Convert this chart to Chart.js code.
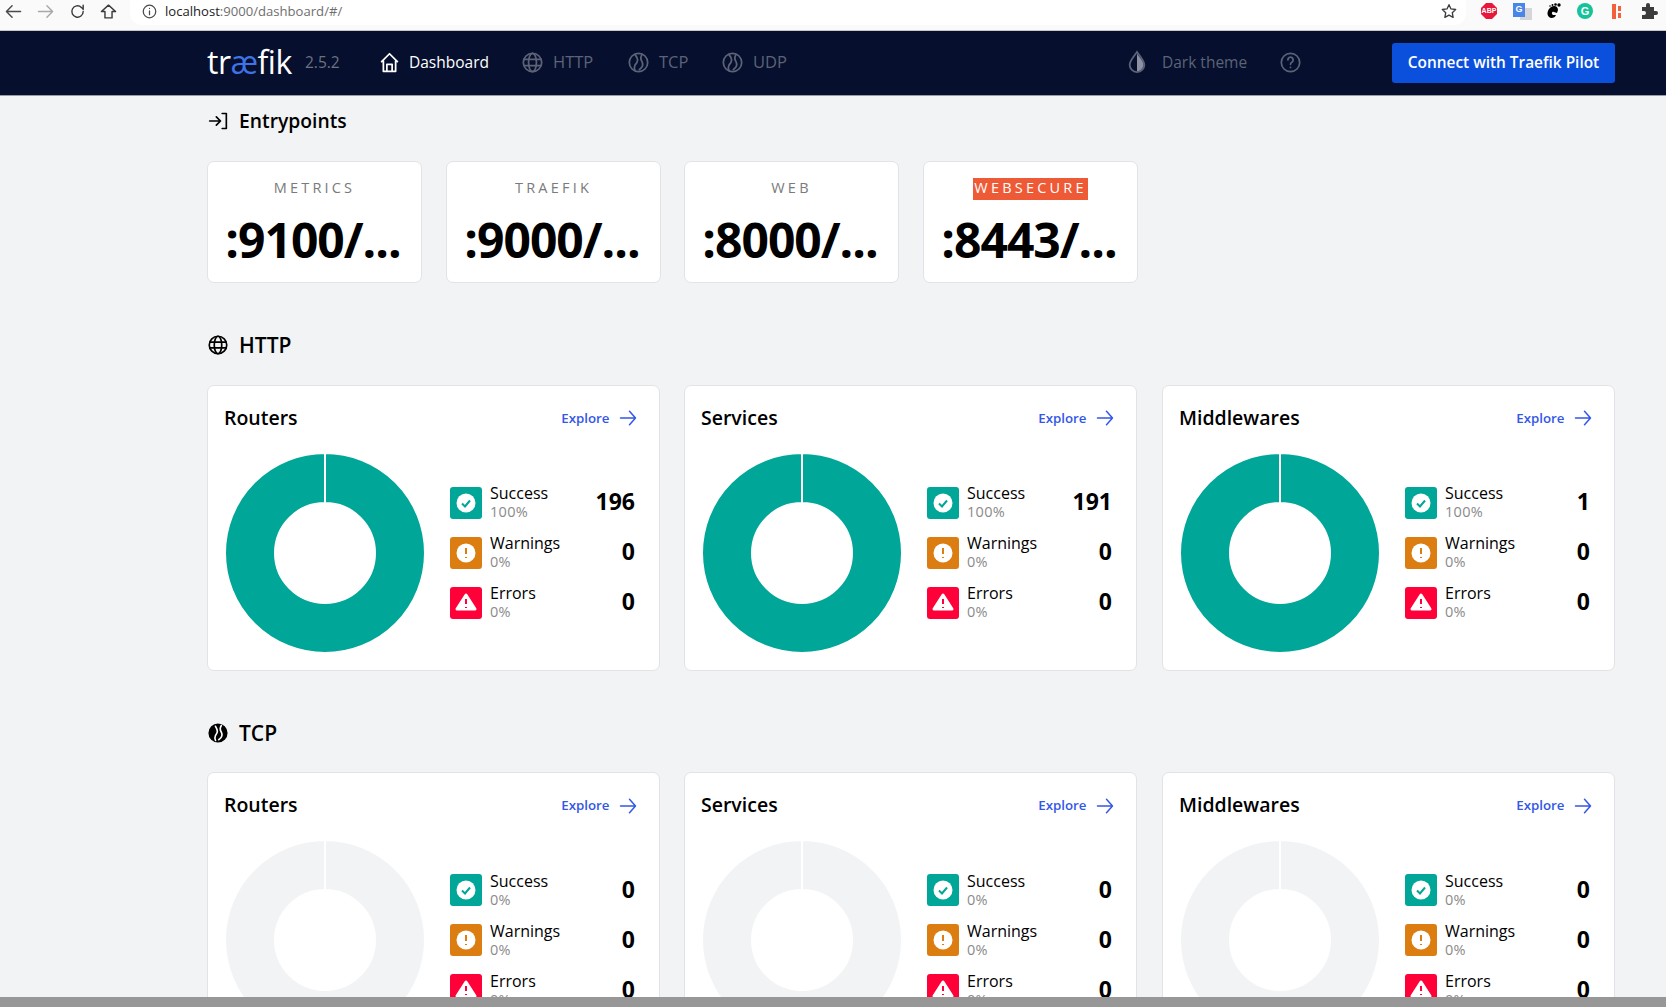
<!DOCTYPE html>
<html>
<head>
<meta charset="utf-8">
<title>Traefik dashboard</title>
<script src="https://cdn.jsdelivr.net/npm/chart.js@4/dist/chart.umd.min.js"></script>
<style>
  html, body { margin: 0; padding: 0; width: 1666px; height: 1007px; overflow: hidden; background: #f2f3f5; font-family: "Open Sans", sans-serif; color: #000; }
  #page { position: absolute; left: 0; top: 0; width: 1666px; height: 1007px; overflow: hidden; }
  .abs { position: absolute; white-space: nowrap; }
  .box { position: absolute; background: #fff; border: 1px solid #e2e3e6; border-radius: 7px; box-sizing: border-box; }
  svg { position: absolute; overflow: visible; }
  canvas { position: absolute; }
  #toolbar { position: absolute; left: 0; top: 0; width: 1666px; height: 31px; background: #fafafa; border-bottom: 1px solid #c8c8c8; box-sizing: border-box; }
  #urlbar { position: absolute; left: 130px; top: 0; width: 1336px; height: 25px; background: #fff; border-radius: 0 0 12px 12px; }
  #nav { position: absolute; left: 0; top: 31px; width: 1666px; height: 65px; background: #060f2d; border-bottom: 1px solid #9a9ca3; box-sizing: border-box; }
  #bottom { position: absolute; left: 0; top: 997px; width: 1666px; height: 10px; background: #979797; }
</style>
</head>
<body>
<div id="page">
  <div id="toolbar"><div id="urlbar"></div></div>
  <div id="nav"></div>
</div>
<script>
// values
const entryNames = ["METRICS", "TRAEFIK", "WEB", "WEBSECURE"];
const entryAddresses = [":9100/...", ":9000/...", ":8000/...", ":8443/..."];
const cardTitles = ["Routers", "Services", "Middlewares"];
const statusLabels = ["Success", "Warnings", "Errors"];
const statusColors = ["#00a697", "#db7d11", "#ff0039"];
const emptyColor = "#f2f3f5";

const httpRouters = [196, 0, 0];
const httpServices = [191, 0, 0];
const httpMiddlewares = [1, 0, 0];
const tcpRouters = [0, 0, 0];
const tcpServices = [0, 0, 0];
const tcpMiddlewares = [0, 0, 0];

const page = document.getElementById("page");

function text(str, x, cy, css, parent) {
  const el = document.createElement("div");
  el.className = "abs";
  el.textContent = str;
  el.style.cssText = `left:${x}px;top:${cy - 20}px;line-height:40px;height:40px;` + (css || "");
  (parent || page).appendChild(el);
  return el;
}

function textRight(str, right, cy, css) {
  return text(str, 0, cy, `left:auto;right:${1666 - right}px;` + (css || ""));
}

function icon(x, y, size, body, color) {
  const wrap = document.createElement("div");
  wrap.innerHTML = `<svg style="left:${x}px;top:${y}px" width="${size}" height="${size}" viewBox="0 0 24 24" fill="none" stroke="${color}" stroke-width="2" stroke-linecap="round" stroke-linejoin="round">${body}</svg>`;
  page.appendChild(wrap.firstChild);
}

const icons = {
  home: '<path d="M3 11 12 2l9 9M5 10v12h14V10M9 22v-8h6v8"/>',
  globe: '<circle cx="12" cy="12" r="10.5"/><ellipse cx="12" cy="12" rx="4.5" ry="10.5"/><path d="M2.500 8.500h19M2.500 15.500h19"/>',
  ball: '<circle cx="12" cy="12" r="10.5"/><path d="M8 3c4 5 4 7 0 12-1 2-1 4 0 6M16 3c-2 3-2 5 0 8 2 4 0 7-3 9"/>',
  drop: '<path d="M12 1c5 7 8 10 8 14a8 8 0 0 1-16 0c0-4 3-7 8-14z"/><path d="M12 3c5 7 7 9 7 12a7 7 0 0 1-7 7z" fill="currentColor" stroke="none"/>',
  help: '<circle cx="12" cy="12" r="10.5"/><path d="M9 9a3 3 0 1 1 4.5 2.6c-1 .6-1.5 1.2-1.5 2.4M12 17.5v.1"/>',
  entry: '<path d="M2 12h13M10 7l5 5-5 5M17 3h5v18h-5"/>',
  back: '<path d="M22 12H3M10 4l-8 8 8 8"/>',
  reload: '<path d="M20 12a8 8 0 1 1-2.5-5.8L20 9V3"/>',
  house: '<path d="M2 12 12 3l10 9h-5v9H7v-9z"/>',
  star: '<path d="M12 2.5l3 6.4 7 .9-5.100 4.800 1.300 7-6.200-3.400-6.200 3.400 1.300-7L2 9.800l7-.9z"/>',
  info: '<circle cx="12" cy="12" r="10"/><path d="M12 11v6M12 7v.1"/>',
  arrow: '<path d="M2 12h20M14 3l8 9-8 9"/>'
};

// browser toolbar
icon(5, 3, 17, icons.back, "#4a4a4a");
icon(37, 3, 17, '<path d="M2 12h19M14 4l8 8-8 8"/>', "#a8a8a8");
icon(69, 3, 17, icons.reload, "#3a3a3a");
icon(100, 3, 17, icons.house, "#3a3a3a");
icon(142, 4, 15, icons.info, "#4a4a4a");
const urlEl = text("localhost", 165, 11, "font-size:13.100px;color:#222;");
const urlRest = document.createElement("span");
urlRest.textContent = ":9000/dashboard/#/";
urlRest.style.color = "#6f6f6f";
urlEl.appendChild(urlRest);
icon(1441, 3, 16, icons.star, "#3c3c3c");

// extension icons
page.insertAdjacentHTML("beforeend", `<svg style="left:1481px;top:3px" width="16" height="16" viewBox="0 0 16 16"><path d="M5 0h6l5 5v6l-5 5H5l-5-5V5z" fill="#e8173c"/></svg>
<div class="abs" style="left:1481px;top:3px;width:16px;height:16px;color:#fff;font-size:7px;font-weight:700;line-height:16px;text-align:center;font-family:'Liberation Sans'">ABP</div>
<div class="abs" style="left:1520px;top:8px;width:12px;height:12px;background:#d4d6da"></div>
<div class="abs" style="left:1513px;top:3px;width:12px;height:14px;background:#4a86e8;color:#fff;font-size:9px;line-height:13px;text-align:center;font-weight:700;font-family:'Liberation Sans'">G</div>
<svg style="left:1545px;top:3px" width="16" height="16" viewBox="0 0 16 16"><path d="M6 4c3-2 7-1 7 3l-1 3-3-1c-2-1-3 2-1 3h3c-1 3-5 4-7 2-3-3-1-8 2-10z" fill="#000"/><circle cx="14" cy="2" r="1.700"/><circle cx="10.500" cy="1.500" r="1.300"/><circle cx="7.500" cy="2" r="1"/><circle cx="5" cy="3" r=".8"/></svg>
<div class="abs" style="left:1577px;top:3px;width:16px;height:16px;border-radius:8px;background:#15c39a;color:#fff;font-size:11px;font-weight:700;line-height:16px;text-align:center;font-family:'Liberation Sans'">G</div>
<div class="abs" style="left:1612px;top:4px;width:4px;height:15px;background:#f2603c"></div>
<div class="abs" style="left:1618px;top:6px;width:3px;height:5px;background:#f2603c"></div>
<div class="abs" style="left:1618px;top:13px;width:3px;height:5px;background:#f2603c"></div>
<svg style="left:1641px;top:3px" width="16" height="16" viewBox="0 0 16 16"><path d="M1 4h4V2a2 2 0 0 1 4 0v2h4v4h2a2 2 0 0 1 0 4h-2v4H1v-4h2a2 2 0 0 0 0-4H1z" fill="#3c3c3c"/></svg>`);

// top nav
const logo = text("tr", 207, 62, "font-size:32px;color:#fff;font-weight:400;letter-spacing:-.5px;");
logo.insertAdjacentHTML("beforeend", '<span style="color:#3f73e8">æ</span>fik');
text("2.5.2", 305, 62, "font-size:15.500px;color:#6b7280;");
icon(379, 52, 21, icons.home, "#fff");
text("Dashboard", 409, 62, "font-size:15.500px;color:#fff;font-weight:500;");
icon(522, 52, 21, icons.globe, "#5c6377");
text("HTTP", 553, 62, "font-size:16.500px;color:#5c6377;");
icon(628, 52, 21, icons.ball, "#5c6377");
text("TCP", 659, 62, "font-size:16.500px;color:#5c6377;");
icon(722, 52, 21, icons.ball, "#5c6377");
text("UDP", 753, 62, "font-size:16.500px;color:#5c6377;");
page.insertAdjacentHTML("beforeend", `<svg style="left:1126px;top:50px;color:#8c92a3" width="22" height="24" viewBox="0 0 24 24" fill="none" stroke="#5c6377" stroke-width="2">${icons.drop}</svg>`);
text("Dark theme", 1162, 61.500, "font-size:15.500px;color:#5c6377;");
icon(1280, 52, 21, icons.help, "#5c6377");
page.insertAdjacentHTML("beforeend", '<div class="abs" style="left:1392px;top:43px;width:223px;height:40px;background:#0b50dc;border-radius:3px"></div>');
text("Connect with Traefik Pilot", 1392, 63, "width:223px;text-align:center;font-size:15.400px;font-weight:600;color:#fff;");

// section headings
function heading(label, y, iconBody, size) {
  icon(208, y - 10, 20, iconBody, "#000");
  text(label, 239, y, `font-size:${size}px;font-weight:600;`);
}
heading("Entrypoints", 121, icons.entry, 19.3);
heading("HTTP", 345, icons.globe, 21);
heading("TCP", 733, '<circle cx="12" cy="12" r="10.500" fill="#000"/><path d="M9 4c3 5 3 7 0 11-1 2-1 4 0 6M16 3c-2 3-2 5 0 8 2 4 0 7-3 9" stroke="#fff"/>', 21);

// entrypoint cards
const entryLefts = [207, 446, 684, 923];
entryNames.forEach(function (name, i) {
  const left = entryLefts[i];
  page.insertAdjacentHTML("beforeend", `<div class="box" style="left:${left}px;top:161px;width:215px;height:122px"></div>`);
  const secure = name === "WEBSECURE";
  if (secure) {
    page.insertAdjacentHTML("beforeend", `<div class="abs" style="left:973px;top:178px;width:115px;height:22px;background:#ee5a36"></div>`);
  }
  text(name, left, 188, `width:215px;text-align:center;font-size:14.500px;letter-spacing:3.200px;color:${secure ? "#fff" : "#7a7a7a"};`);
  text(entryAddresses[i], left, 239.500, "width:212px;text-align:center;font-size:48px;font-weight:700;letter-spacing:-1px;");
});

// status cards with doughnuts
const cardLefts = [208, 685, 1163];

function statusCard(title, values, left, top, textNudge) {
  page.insertAdjacentHTML("beforeend", `<div class="box" style="left:${left - 1}px;top:${top}px;width:453px;height:286px"></div>`);
  text(title, left + 16, top + 33, "font-size:19.500px;font-weight:600;");
  textRight("Explore", left + 401.500, top + 33, "font-size:13.300px;font-weight:600;color:#3357e8;");
  icon(left + 411, top + 24.500, 18, icons.arrow, "#3357e8");

  const total = values.reduce(function (a, b) { return a + b; }, 0);
  const canvas = document.createElement("canvas");
  canvas.width = 202;
  canvas.height = 202;
  canvas.style.left = (left + 16) + "px";
  canvas.style.top = (top + 67) + "px";
  page.appendChild(canvas);
  new Chart(canvas.getContext("2d"), {
    type: "doughnut",
    data: {
      labels: total ? statusLabels : ["Empty"],
      datasets: [{
        data: total ? values : [1],
        backgroundColor: total ? statusColors : [emptyColor],
        borderColor: "#fff",
        borderWidth: 2
      }]
    },
    options: {
      responsive: false,
      animation: false,
      devicePixelRatio: 1,
      plugins: { legend: { display: false }, tooltip: { enabled: false } }
    }
  });

  statusLabels.forEach(function (label, i) {
    const rowTop = top + 102 + i * 50;
    const pct = total ? Math.round(values[i] / total * 100) : 0;
    page.insertAdjacentHTML("beforeend", `<div class="abs" style="left:${left + 242}px;top:${rowTop}px;width:32px;height:32px;border-radius:3px;background:${statusColors[i]}"></div>`);
    statusGlyph(i, left + 242, rowTop);
    text(label, left + 282, rowTop + 6 + textNudge, "font-size:16px;");
    text(pct + "%", left + 282, rowTop + 25 + textNudge, "font-size:14.500px;letter-spacing:.3px;color:#8a8a8a;");
    textRight(String(values[i]), left + 427, rowTop + 14 + textNudge, "font-size:23px;font-weight:700;");
  });
}

function statusGlyph(i, x, y) {
  let body;
  if (i === 0) {
    body = `<circle cx="16" cy="16" r="9.500" fill="#fff"/><path d="M12 16.500l3 3 5-6" fill="none" stroke="${statusColors[0]}" stroke-width="2"/>`;
  } else if (i === 1) {
    body = `<circle cx="16" cy="16" r="9.500" fill="#fff"/><path d="M16 11v6M16 20v1" stroke="${statusColors[1]}" stroke-width="2"/>`;
  } else {
    body = `<path d="M16 8 25 22H7z" fill="#fff" stroke="#fff" stroke-width="3" stroke-linejoin="round"/><path d="M16 12v5M16 20v1" stroke="${statusColors[2]}" stroke-width="2"/>`;
  }
  page.insertAdjacentHTML("beforeend", `<svg style="left:${x}px;top:${y}px" width="32" height="32" viewBox="0 0 32 32">${body}</svg>`);
}

[httpRouters, httpServices, httpMiddlewares].forEach(function (values, i) {
  statusCard(cardTitles[i], values, cardLefts[i], 384.500, 0);
});
[tcpRouters, tcpServices, tcpMiddlewares].forEach(function (values, i) {
  statusCard(cardTitles[i], values, cardLefts[i], 772, 1);
});

page.insertAdjacentHTML("beforeend", '<div id="bottom"></div>');
</script>
</body>
</html>
